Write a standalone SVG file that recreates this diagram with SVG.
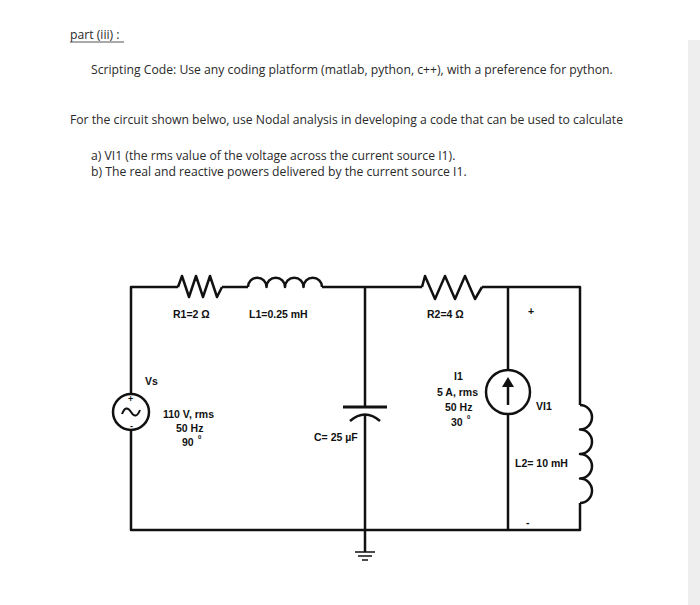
<svg xmlns="http://www.w3.org/2000/svg" width="700" height="605" viewBox="0 0 700 605">
<style>
.t{font-family:"Open Sans","Liberation Sans",sans-serif;font-size:12.2px;fill:#2a2a2a}
.c{font-family:"Liberation Sans",Arial,sans-serif;font-size:10.5px;font-weight:bold;fill:#111}
.s{font-family:"Liberation Sans",Arial,sans-serif;font-size:6px;font-weight:bold;fill:#111}
.w{fill:none;stroke:#111;stroke-width:2.5;stroke-linejoin:round}
</style>
<rect width="700" height="605" fill="#fff"/>
<rect x="688" y="40" width="12" height="565" fill="#eee"/>
<g id="text">
<text class="t" x="70" y="39">part (iii) :</text>
<line x1="70" y1="42" x2="124" y2="42" stroke="#2a2a2a" stroke-width="0.8"/>
<text class="t" x="91" y="74">Scripting Code:  Use any coding platform (matlab, python, c++), with a preference for python.</text>
<text class="t" x="70" y="124">For the circuit shown belwo,  use Nodal analysis  in developing a code that can be used to calculate</text>
<text class="t" x="91" y="160">a)  VI1 (the rms value of the voltage across the current source I1).</text>
<text class="t" x="91" y="176">b)  The real and reactive powers delivered by the current source I1.</text>
</g>
<g id="wires" class="w">
<path d="M131,394 V287 H178"/>
<path d="M222,287 H248"/>
<path d="M322,287 H422"/>
<path d="M482,287 H580 V405"/>
<path d="M580,503 V530 H131 V430"/>
<path d="M365,287 V407"/>
<path d="M365,414 V552"/>
<path d="M508,287 V370"/>
<path d="M508,414 V530"/>
</g>
<g id="R1"><path class="w" d="M178,287 L182,276 L189,297 L196,276 L203,297 L210,276 L217,297 L222,287"/><text class="c" x="173" y="318">R1=2 Ω</text></g>
<g id="L1"><path class="w" d="M248,287 a9,9 0 0 1 18.5,0 a9,9 0 0 1 18.5,0 a9,9 0 0 1 18.5,0 a9,9 0 0 1 18.5,0"/><text class="c" x="249" y="318">L1=0.25 mH</text></g>
<g id="R2"><path class="w" d="M422,287 L425,276 L435,299 L445,276 L455,299 L465,276 L475,299 L482,287"/><text class="c" x="427" y="318">R2=4 Ω</text></g>
<g id="Vs"><circle class="w" cx="131" cy="412" r="18"/><path d="M122,414 q4,-10 9,-2 q5,8 9,-2" fill="none" stroke="#111" stroke-width="2"/>
<text class="s" x="128" y="402" style="font-size:9px">+</text><text class="s" x="130" y="429" style="font-size:9px">-</text>
<text class="c" x="145" y="385">Vs</text>
<text class="c" x="163" y="418">110 V, rms</text><text class="c" x="176" y="432">50 Hz</text><text class="c" x="182" y="446">90</text><text class="s" x="198" y="439">0</text></g>
<g id="C"><line x1="343" y1="407" x2="387" y2="407" stroke="#111" stroke-width="3"/><path class="w" d="M350,421 q15,-13 30,0"/>
<text class="c" x="314" y="441">C= 25 µF</text>
<path d="M355,552 h20 M358,556 h14 M362,560 h6" stroke="#111" stroke-width="1.5"/></g>
<g id="I1"><circle class="w" cx="508" cy="392" r="22"/><path d="M508,405 V385" stroke="#111" stroke-width="2.5"/><path d="M502,387 L508,377 L514,387 Z" fill="#111"/>
<text class="c" x="454" y="380">I1</text><text class="c" x="437" y="396">5 A, rms</text><text class="c" x="445" y="411">50 Hz</text><text class="c" x="451" y="426">30</text><text class="s" x="467" y="419">0</text>
<text class="c" x="536" y="410">VI1</text><text class="c" x="528" y="315">+</text><text class="c" x="526" y="526">-</text></g>
<g id="L2"><path class="w" d="M580,405 a12,12.25 0 0 1 0,24.5 a12,12.25 0 0 1 0,24.5 a12,12.25 0 0 1 0,24.5 a12,12.25 0 0 1 0,24.5"/>
<text class="c" x="515" y="467">L2= 10 mH</text></g>
</svg>
